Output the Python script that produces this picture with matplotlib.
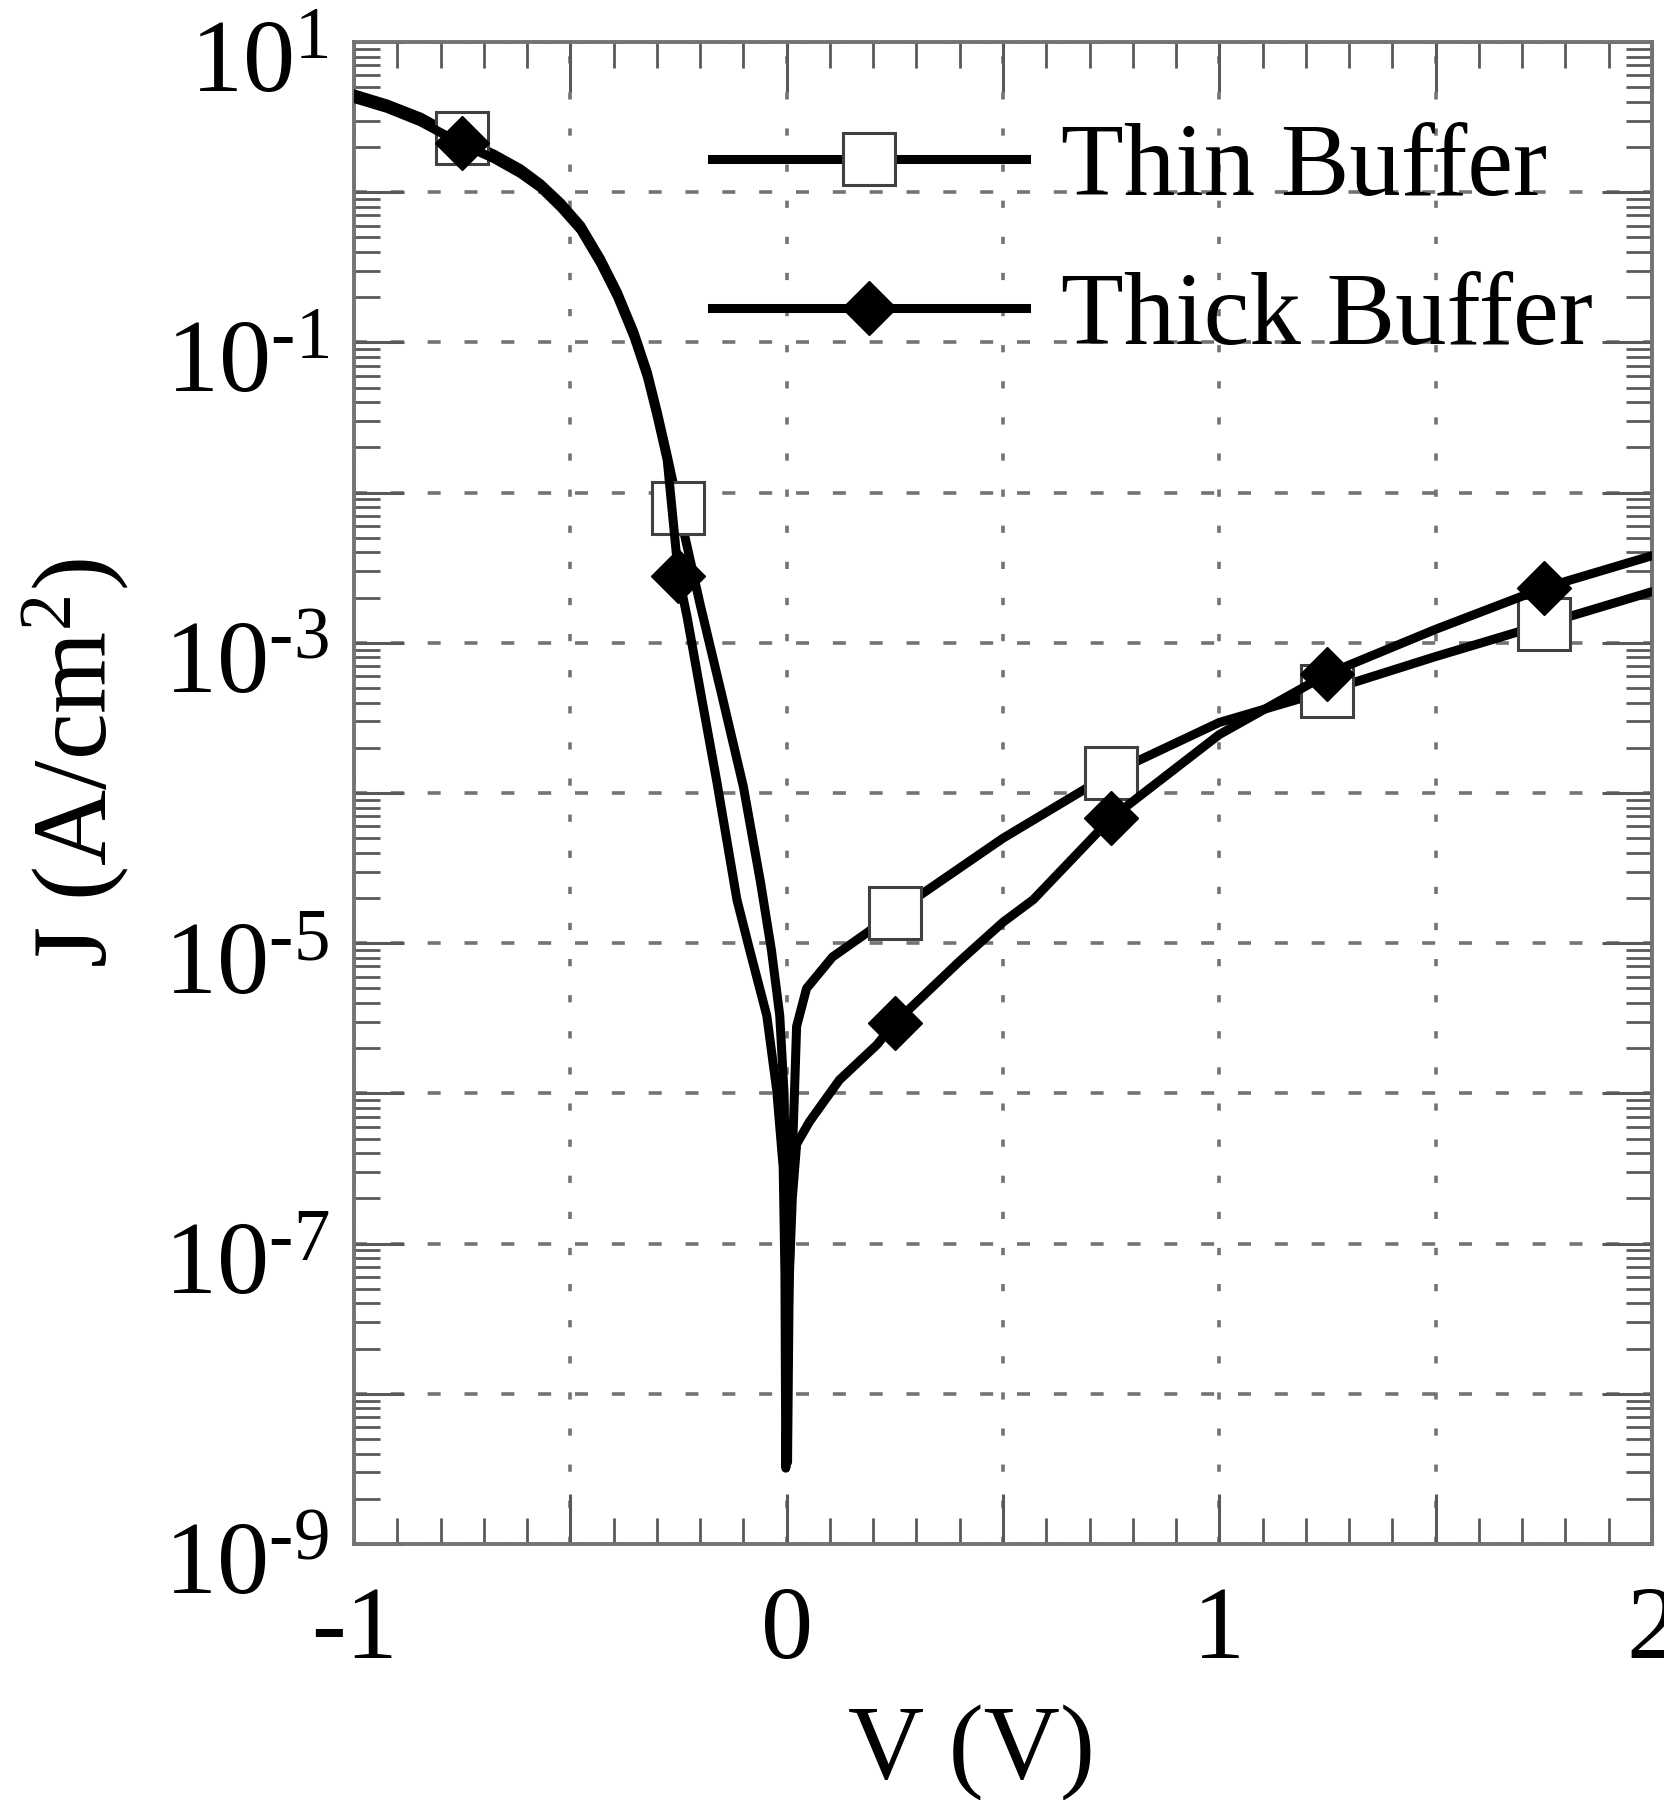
import matplotlib
matplotlib.use("Agg")
import matplotlib.pyplot as plt
import matplotlib.transforms as mtransforms
from matplotlib.ticker import MultipleLocator, LogLocator, FuncFormatter, NullFormatter
from matplotlib.lines import Line2D
import numpy as np

plt.rcParams['font.family'] = ['Liberation Serif', 'DejaVu Serif']
plt.rcParams['mathtext.fontset'] = 'custom'
plt.rcParams['mathtext.rm'] = 'Liberation Serif'
plt.rcParams['mathtext.it'] = 'Liberation Serif:italic'
plt.rcParams['mathtext.bf'] = 'Liberation Serif:bold'

# ---- data ----
v_thin = [-1.0, -0.923, -0.846, -0.753, -0.676, -0.615, -0.569, -0.522, -0.476, -0.430,
          -0.391, -0.353, -0.322, -0.299, -0.276, -0.25, -0.20, -0.15, -0.10, -0.06,
          -0.035, -0.016, -0.006, -0.002, 0.002, 0.006, 0.012, 0.018, 0.023, 0.046,
          0.106, 0.185, 0.25, 0.5, 0.75, 1.0, 1.25, 1.5, 1.75, 2.0]
j_thin = [4.51, 3.86, 3.16, 2.26, 1.79, 1.43, 1.14, 0.85, 0.60, 0.359,
          0.215, 0.117, 0.0632, 0.0343, 0.0176, 7.9e-3, 1.8e-3, 4.5e-4, 1.1e-4, 2.5e-5,
          8.9e-6, 3.3e-6, 1.0e-6, 1.6e-7, 3.5e-9, 6.3e-8, 3.2e-7, 1.0e-6, 2.8e-6, 5.0e-6,
          8.1e-6, 1.17e-5, 1.6e-5, 5.0e-5, 1.35e-4, 2.95e-4, 4.8e-4, 8.1e-4, 1.33e-3, 2.19e-3]

v_thick = [-1.0, -0.923, -0.846, -0.753, -0.676, -0.615, -0.569, -0.522, -0.476, -0.430,
           -0.391, -0.353, -0.322, -0.299, -0.276, -0.25, -0.23, -0.196, -0.161, -0.115,
           -0.085, -0.046, -0.023, -0.008, -0.004, -0.002, 0.005, 0.013, 0.023, 0.053,
           0.122, 0.208, 0.25, 0.4, 0.5, 0.57, 0.75, 1.0, 1.25, 1.5, 1.75, 2.0]
j_thick = [4.21, 3.61, 2.94, 2.11, 1.67, 1.33, 1.07, 0.79, 0.56, 0.335,
           0.201, 0.109, 0.059, 0.032, 0.0164, 2.8e-3, 1.48e-3, 4.2e-4, 1.17e-4, 1.95e-5,
           8.9e-6, 3.3e-6, 1.05e-6, 3.2e-7, 6.3e-8, 3.2e-9, 5.0e-8, 2.0e-7, 4.6e-7, 6.5e-7,
           1.23e-6, 2.1e-6, 2.95e-6, 7.6e-6, 1.38e-5, 1.95e-5, 6.8e-5, 2.45e-4, 6.2e-4,
           1.23e-3, 2.32e-3, 3.8e-3]

v_marks = [-0.75, -0.25, 0.25, 0.75, 1.25, 1.75]
j_thin_marks = [2.30, 7.9e-3, 1.6e-5, 1.35e-4, 4.8e-4, 1.33e-3]
j_thick_marks = [2.11, 2.8e-3, 2.95e-6, 6.8e-5, 6.2e-4, 2.32e-3]

labels = ["Thin Buffer", "Thick Buffer"]
x_tick_labels = {-1.0: "-1", 0.0: "0", 1.0: "1", 2.0: "2"}

# ---- figure ----
fig = plt.figure(figsize=(16.65, 18), dpi=100)
ax = fig.add_axes([354/1665, 1 - 1544/1800, (1652-354)/1665, (1544-42)/1800])

LW = 6.5
SQ_MS, D_MS = 38, 27
ax.plot(v_thin, j_thin, color='black', lw=LW, zorder=3, solid_joinstyle='round')
ax.plot(v_marks, j_thin_marks, ls='none', marker='s', ms=SQ_MS, mfc='white',
        mec='0.25', mew=2.2, zorder=4)
ax.plot(v_thick, j_thick, color='black', lw=LW, zorder=5, solid_joinstyle='round')
ax.plot(v_marks, j_thick_marks, ls='none', marker='D', ms=D_MS, mfc='black',
        mec='black', mew=1, zorder=6)

ax.set_yscale('log')
ax.set_xlim(-1, 2)
ax.set_ylim(1e-9, 1e1)

# ticks
ax.xaxis.set_major_locator(MultipleLocator(0.5))
ax.xaxis.set_minor_locator(MultipleLocator(0.1))
ax.xaxis.set_major_formatter(FuncFormatter(
    lambda x, p: x_tick_labels.get(round(x, 3), "")))

ax.yaxis.set_major_locator(LogLocator(base=10, numticks=30))
ax.yaxis.set_minor_locator(LogLocator(base=10, subs=np.arange(2, 10), numticks=30))
ax.yaxis.set_minor_formatter(NullFormatter())

HYPH = "\u2010"
def yfmt(y, p):
    e = int(round(np.log10(y)))
    if e % 2 == 0:
        return ""
    if e < 0:
        return "$10^{" + HYPH + str(-e) + "}$"
    return "$10^{" + str(e) + "}$"
ax.yaxis.set_major_formatter(FuncFormatter(yfmt))

tick_col = '0.35'
ax.tick_params(which='both', direction='in', top=True, right=True, color=tick_col)
ax.tick_params(which='major', length=36, width=2.2, labelsize=75, pad=18)
ax.tick_params(which='minor', length=19, width=2.0)
ax.tick_params(axis='x', which='major', pad=30)

for s in ax.spines.values():
    s.set_color('0.45')
    s.set_linewidth(2.8)

ax.grid(True, axis='y', which='major', color='0.45', lw=2.6, ls=(0, (3.6, 6.6)), zorder=1)
ax.grid(True, axis='x', which='major', color='0.45', lw=2.6, ls=(0, (2.0, 8.0)), zorder=1)

ax.set_xlabel("V (V)", fontsize=76)
ax.xaxis.set_label_coords(0.476, -0.107)
ax.set_ylabel(r"J (A/cm$^{2}$)", fontsize=76)
ax.yaxis.set_label_coords(-0.172, 0.52)

handles = [
    Line2D([], [], color='black', lw=LW, marker='s', ms=SQ_MS, mfc='white', mec='0.25', mew=2.2),
    Line2D([], [], color='black', lw=LW, marker='D', ms=D_MS, mfc='black', mec='black'),
]
leg = ax.legend(handles, labels, loc='upper left', bbox_to_anchor=(0.276, 0.946),
                frameon=False, fontsize=74, handlelength=3.05, handletextpad=0.34,
                labelspacing=0.53, borderpad=0, borderaxespad=0, numpoints=1)
leg.set_zorder(10)

# nudge y tick labels slightly downward like the reference
fig.canvas.draw()
offset = mtransforms.ScaledTranslation(0, -0.14, fig.dpi_scale_trans)
for t in ax.yaxis.get_major_ticks():
    t.label1.set_transform(t.label1.get_transform() + offset)

fig.savefig("out.png", dpi=100, facecolor='white')
